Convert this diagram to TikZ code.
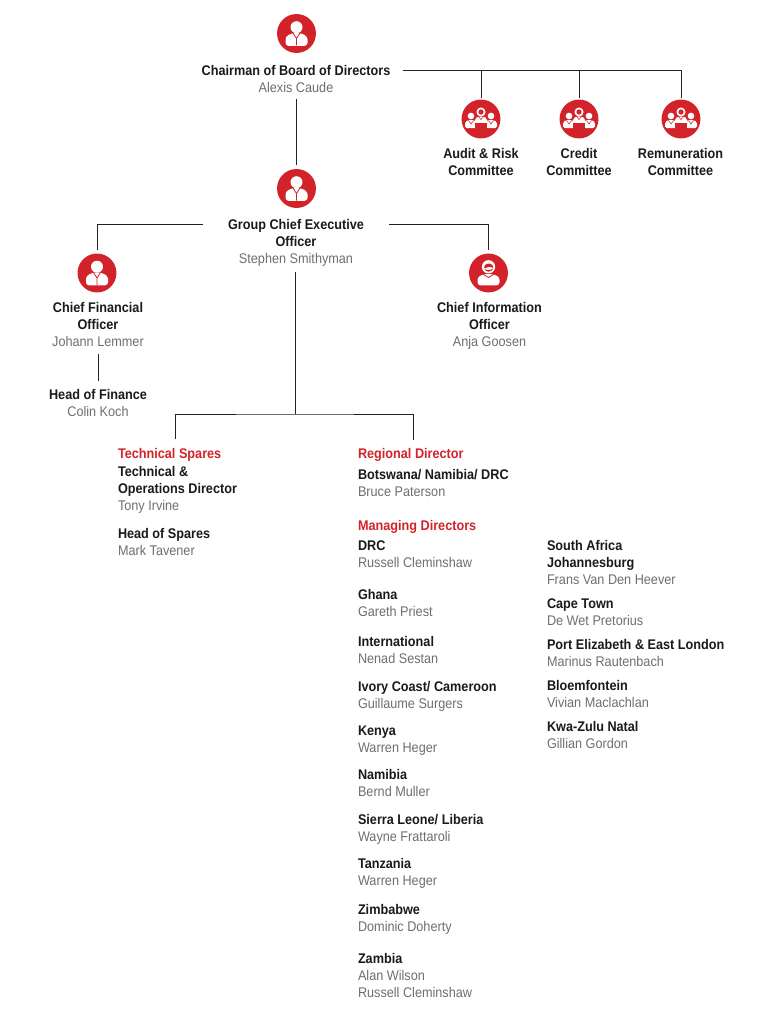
\documentclass[tikz,border=0pt]{standalone}
\usepackage{fontspec}
\setmainfont[FakeStretch=0.905]{Liberation Sans}
\definecolor{brandred}{HTML}{D2232A}
\definecolor{namegrey}{HTML}{6D6E71}
\definecolor{titleblack}{HTML}{1A1A1A}
\definecolor{linecol}{HTML}{222222}
\newcommand{\ttl}[1]{{\bfseries\color{titleblack}#1}}
\newcommand{\nam}[1]{{\color{namegrey}#1}}
\newcommand{\hd}[1]{{\bfseries\color{brandred}#1}}
\tikzset{
  x=0.75pt,y=-0.75pt,
  iconbg/.style={circle,fill=brandred,minimum size=29.2pt,inner sep=0pt,outer sep=3pt},
  cmtbg/.style={iconbg,outer sep=1.2pt},
  lab/.style={inner sep=0pt,outer sep=0pt,yshift=-2.25pt,font=\fontsize{10.5}{12.75}\selectfont},
  cblock/.style={lab,anchor=north,align=center},
  lblock/.style={lab,anchor=north west,align=left},
  conn/.style={draw=linecol,line width=0.75pt},
  person/.pic={
    \fill[white] (0,-6.3) circle[radius=4.5pt];
    \fill[white,rounded corners=2.2pt] (-11,12.3)--(-11,3)--(-4,-0.5)--(4,-0.5)--(11,3)--(11,12.3)--cycle;
    \draw[brandred,line width=0.6pt] (-3.5,-0.5)--(0,5)--(3.5,-0.5) (0,5)--(0,12);
  },
  woman/.pic={
    \fill[white] (0,-6.2) circle[radius=5pt];
    \fill[brandred] (-4.2,-4.5)..controls (-5,-8) and (-2,-9.5)..(1,-9.5)..controls (4,-9.5) and (5,-7)..(4.6,-4.5)..controls (3.5,-7) and (-1,-6)..(-4.2,-4.5)--cycle;
    \fill[brandred] (-4,-4) ..controls (-2.5,-0.5) and (2.5,-0.5).. (4.5,-4) ..controls (2,-2.5) and (-2,-2.5).. (-4,-4) --cycle;
    \fill[white,rounded corners=2.2pt] (-11,12.3)--(-11,4)--(-4,1)--(4,1)--(11,4)--(11,12.3)--cycle;
    \draw[brandred,line width=0.6pt] (-5,1.5)--(0,4.5)--(5,1.5);
  },
  committee/.pic={
    \fill[white] (0,-7) circle[radius=3.4pt];
    \fill[brandred] (0,-7) circle[radius=2pt];
    \fill[white] (-10,-3) circle[radius=2.5pt] (10,-3) circle[radius=2.5pt];
    \fill[white,rounded corners=1.2pt] (-6,5)--(-6,-0.5)--(-2.5,-2.5)--(2.5,-2.5)--(6,-0.5)--(6,5)--cycle;
    \fill[white,rounded corners=1.2pt] (-16,9)--(-16,3)--(-12.5,1)--(-7.5,1)--(-4,3)--(-4,9)--cycle;
    \fill[white,rounded corners=1.2pt] (16,9)--(16,3)--(12.5,1)--(7.5,1)--(4,3)--(4,9)--cycle;
    \fill[brandred] (-6,4) rectangle (6,18);
    \draw[brandred,line width=0.4pt] (-12.5,1.5)--(-10,5)--(-7.5,1.5) (12.5,1.5)--(10,5)--(7.5,1.5) (-2.5,-2.5)--(0,0.5)--(2.5,-2.5);
  },
}
\begin{document}
\begin{tikzpicture}
\useasboundingbox (0,0) rectangle (768,1024);
% icons
\node[iconbg] (chairicon) at (296.5,33.5) {};
\pic at (chairicon) {person};
\node[iconbg] (ceoicon) at (296.5,188.5) {};
\pic at (ceoicon) {person};
\node[iconbg] (cfoicon) at (97,273) {};
\pic at (cfoicon) {person};
\node[iconbg] (cioicon) at (488.5,273) {};
\pic at (cioicon) {woman};
\node[cmtbg] (auditicon) at (481,119) {};
\pic at (auditicon) {committee};
\node[cmtbg] (crediticon) at (579,119) {};
\pic at (crediticon) {committee};
\node[cmtbg] (remicon) at (681,119) {};
\pic at (remicon) {committee};
% centred labels
\node[cblock] (chair) at (296,62) {\ttl{Chairman of Board of Directors}\\\nam{Alexis Caude}};
\node[cblock] (audit) at (481,145.5) {\ttl{Audit \& Risk}\\\ttl{Committee}};
\node[cblock] (credit) at (579,145.5) {\ttl{Credit}\\\ttl{Committee}};
\node[cblock] (rem) at (680.5,145.5) {\ttl{Remuneration}\\\ttl{Committee}};
\node[cblock] (ceo) at (296,216) {\ttl{Group Chief Executive}\\\ttl{Officer}\\\nam{Stephen Smithyman}};
\node[cblock] (cfo) at (98,299.5) {\ttl{Chief Financial}\\\ttl{Officer}\\\nam{Johann Lemmer}};
\node[cblock] (cio) at (489.5,299.5) {\ttl{Chief Information}\\\ttl{Officer}\\\nam{Anja Goosen}};
\node[cblock] (hof) at (98,386) {\ttl{Head of Finance}\\\nam{Colin Koch}};
% left column
\node[lblock] (techsp) at (118,445.5) {\hd{Technical Spares}};
\node[lblock] (techdir) at (118,463.5) {\ttl{Technical \&}\\\ttl{Operations Director}\\\nam{Tony Irvine}};
\node[lblock] (spares) at (118,525.5) {\ttl{Head of Spares}\\\nam{Mark Tavener}};
% middle column
\node[lblock] (regional) at (358,445.5) {\hd{Regional Director}};
\node[lblock] (bots) at (358,466.5) {\ttl{Botswana/ Namibia/ DRC}\\\nam{Bruce Paterson}};
\node[lblock] (md) at (358,517.5) {\hd{Managing Directors}};
\node[lblock] (drc) at (358,537.5) {\ttl{DRC}\\\nam{Russell Cleminshaw}};
\node[lblock] (ghana) at (358,586.5) {\ttl{Ghana}\\\nam{Gareth Priest}};
\node[lblock] (intl) at (358,633.5) {\ttl{International}\\\nam{Nenad Sestan}};
\node[lblock] (ivory) at (358,678) {\ttl{Ivory Coast/ Cameroon}\\\nam{Guillaume Surgers}};
\node[lblock] (kenya) at (358,722.5) {\ttl{Kenya}\\\nam{Warren Heger}};
\node[lblock] (namibia) at (358,766.5) {\ttl{Namibia}\\\nam{Bernd Muller}};
\node[lblock] (sierra) at (358,811) {\ttl{Sierra Leone/ Liberia}\\\nam{Wayne Frattaroli}};
\node[lblock] (tanz) at (358,855.5) {\ttl{Tanzania}\\\nam{Warren Heger}};
\node[lblock] (zim) at (358,901) {\ttl{Zimbabwe}\\\nam{Dominic Doherty}};
\node[lblock] (zam) at (358,950) {\ttl{Zambia}\\\nam{Alan Wilson}\\\nam{Russell Cleminshaw}};
% right column
\node[lblock] (sa) at (547,537.5) {\ttl{South Africa}\\\ttl{Johannesburg}\\\nam{Frans Van Den Heever}};
\node[lblock] (cape) at (547,595.5) {\ttl{Cape Town}\\\nam{De Wet Pretorius}};
\node[lblock] (pe) at (547,636.5) {\ttl{Port Elizabeth \& East London}\\\nam{Marinus Rautenbach}};
\node[lblock] (bloem) at (547,677.5) {\ttl{Bloemfontein}\\\nam{Vivian Maclachlan}};
\node[lblock] (kzn) at (547,718.5) {\ttl{Kwa-Zulu Natal}\\\nam{Gillian Gordon}};
% junctions
\coordinate (chairR) at (403,71);
\coordinate (ceoL) at (203,224);
\coordinate (ceoR) at (389,224);
\coordinate (split) at (295.5,414);
\coordinate (chairB) at (296.5,99);
\coordinate (ceoB) at (295.5,272);
\coordinate (cfoB) at (98,354);
\coordinate (hofT) at (98,381);
\coordinate (techT) at (175,439);
\coordinate (regT) at (413,440);
% connectors
\draw[conn] (chairR) -- (remicon.north |- chairR) -- (remicon.north);
\draw[conn] (auditicon.north |- chairR) -- (auditicon.north);
\draw[conn] (crediticon.north |- chairR) -- (crediticon.north);
\draw[conn] (chairB) -- (ceoicon.north);
\draw[conn] (ceoL) -| (cfoicon.north);
\draw[conn] (ceoR) -| (cioicon.north);
\draw[conn] (cfoB) -- (hofT);
\draw[conn] (ceoB) -- (split);
\draw[conn] (techT) |- (split) -| (regT);
\end{tikzpicture}
\end{document}
